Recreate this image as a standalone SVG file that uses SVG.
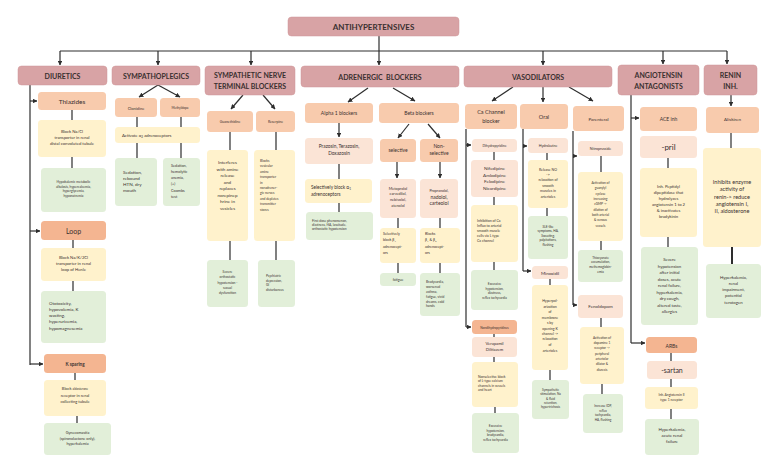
<svg xmlns="http://www.w3.org/2000/svg" width="768" height="466" viewBox="0 0 768 466">
<style>
rect{rx:3.5px;ry:3.5px}
.h{fill:#d8a3a5;stroke:#cf9699;stroke-width:0.5}
.p{fill:#f8cbad}
.o{fill:#f4b591}
.l{fill:#fbe4d6}
.y{fill:#fff2cc}
.g{fill:#e2efd9}
text{font-family:Lato,"Open Sans","DejaVu Sans",sans-serif;fill:#3a3030;text-anchor:middle}
.b{font-weight:bold}
.s{text-anchor:start}
.c line,.c path{stroke:#2e2e2e;stroke-width:1.2;fill:none}
</style>
<defs>
<marker id="a" viewBox="0 0 6 6" refX="5.5" refY="3" markerWidth="4" markerHeight="4" orient="auto"><path d="M0,0L6,3L0,6z" fill="#2e2e2e"/></marker>
</defs>
<rect width="768" height="466" fill="#fff" rx="0"/>
<g class="c" id="connectors">
<path d="M60,51H727"/>
<path d="M379,36V65" marker-end="url(#a)"/>
<path d="M60,51V65" marker-end="url(#a)"/>
<path d="M158,51V65" marker-end="url(#a)"/>
<path d="M251,51V65" marker-end="url(#a)"/>
<path d="M543,51V65" marker-end="url(#a)"/>
<path d="M663,51V64" marker-end="url(#a)"/>
<path d="M727,51V64" marker-end="url(#a)"/>
<path d="M30,85V365"/>
<path d="M30,101H37" marker-end="url(#a)"/>
<path d="M30,231H40" marker-end="url(#a)"/>
<path d="M30,364H43" marker-end="url(#a)"/>
<path d="M72,110V120M72,157V168M73,240V248M73,281V291M75,373V380M77,416V423"/>
<path d="M158,85L139,97" marker-end="url(#a)"/>
<path d="M158,85L180,97" marker-end="url(#a)"/>
<path d="M137,117V127M181,117V127M137,143V158M181,143V158"/>
<path d="M243,95L231,109" marker-end="url(#a)"/>
<path d="M263,95L275,109" marker-end="url(#a)"/>
<path d="M230,132V150M276,132V150M230,241V260M276,241V260"/>
<path d="M368,88L348,102" marker-end="url(#a)"/>
<path d="M393,88L415,101" marker-end="url(#a)"/>
<path d="M339,123V137" marker-end="url(#a)"/>
<path d="M339,164V179M339,203V212"/>
<path d="M409,124L398,138" marker-end="url(#a)"/>
<path d="M428,124L440,138" marker-end="url(#a)"/>
<path d="M397,162V178" marker-end="url(#a)"/>
<path d="M440,162V178" marker-end="url(#a)"/>
<path d="M398,218V228M440,218V228M398,263V273M440,263V273"/>
<path d="M513,87L492,101" marker-end="url(#a)"/>
<path d="M543,87V102" marker-end="url(#a)"/>
<path d="M569,87L593,101" marker-end="url(#a)"/>
<path d="M466,129V327"/>
<path d="M466,145H471" marker-end="url(#a)"/>
<path d="M466,327H471" marker-end="url(#a)"/>
<path d="M494,152V160M494,197V205M494,262V270M494,334V337M494,357V362M495,407V413"/>
<path d="M523,129V271"/>
<path d="M523,146H527" marker-end="url(#a)"/>
<path d="M523,271H531" marker-end="url(#a)"/>
<path d="M547,153V160M547,208V216M550,279V285M550,370V380"/>
<path d="M573,131V305"/>
<path d="M573,156H577" marker-end="url(#a)"/>
<path d="M573,305H577" marker-end="url(#a)"/>
<path d="M601,156V172M601,241V250M601,318V327M602,384V394"/>
<path d="M631,95V343"/>
<path d="M631,118H639" marker-end="url(#a)"/>
<path d="M631,343H645" marker-end="url(#a)"/>
<path d="M668,158V168M668,237V247M671,353V361M671,379V387M671,409V419"/>
<path d="M731,95V106" marker-end="url(#a)"/>
<path d="M731,133V148"/>
<path d="M732,247V264" style="stroke-width:2"/>
</g>

<g id="title"><rect class="h" x="288" y="17" width="171" height="19"/><text class="b" x="373.5" y="29.5" font-size="8">ANTIHYPERTENSIVES</text></g>

<g id="diuretics"><rect class="h" x="18" y="66" width="89" height="19"/><text class="b" x="62.5" y="78.5" font-size="7">DIURETICS</text></g>
<g id="sympathoplegics"><rect class="h" x="112" y="66" width="88" height="19"/><text class="b" x="156" y="78.5" font-size="7">SYMPATHOPLEGICS</text></g>
<g id="sntb"><rect class="h" x="205" y="66" width="90" height="29"/><text class="b" font-size="7"><tspan x="250" y="78">SYMPATHETIC NERVE</tspan><tspan x="250" y="89">TERMINAL BLOCKERS</tspan></text></g>
<g id="adrenergic"><rect class="h" x="301" y="66" width="158" height="21"/><text class="b" x="380" y="79.5" font-size="7" xml:space="preserve">ADRENERGIC  BLOCKERS</text></g>
<g id="vasodilators"><rect class="h" x="464" y="66" width="148" height="21"/><text class="b" x="538" y="79.5" font-size="7">VASODILATORS</text></g>
<g id="angiotensin"><rect class="h" x="618" y="65" width="81" height="30"/><text class="b" font-size="7"><tspan x="658.5" y="77.5">ANGIOTENSIN</tspan><tspan x="658.5" y="88.5">ANTAGONISTS</tspan></text></g>
<g id="renin"><rect class="h" x="704" y="65" width="53" height="30"/><text class="b" font-size="7"><tspan x="730.5" y="77.5">RENIN</tspan><tspan x="730.5" y="88.5">INH.</tspan></text></g>

<g id="thiazides"><rect class="p" x="38" y="92" width="68" height="18"/><text x="72" y="103.5" font-size="6.5">Thiazides</text></g>
<g id="thiazides-mech"><rect class="y" x="38" y="120" width="68" height="37"/><text font-size="4.2"><tspan x="72" y="133">Block Na/Cl</tspan><tspan x="72" y="139">transporter in renal</tspan><tspan x="72" y="145">distal convoluted tubule</tspan></text></g>
<g id="thiazides-ae"><rect class="g" x="41" y="168" width="65" height="44"/><text font-size="3.3"><tspan x="73.5" y="183">Hypokalemic metabolic</tspan><tspan x="73.5" y="187.5">alkalosis, hypercalcemia,</tspan><tspan x="73.5" y="192">hyperglycemia,</tspan><tspan x="73.5" y="196.5">hyponatremia</tspan></text></g>
<g id="loop"><rect class="o" x="41" y="221" width="65" height="19"/><text x="73.5" y="233.5" font-size="7">Loop</text></g>
<g id="loop-mech"><rect class="y" x="41" y="248" width="65" height="33"/><text font-size="4.2"><tspan x="73.5" y="259">Block Na/K/2Cl</tspan><tspan x="73.5" y="265">transporter in renal</tspan><tspan x="73.5" y="271">loop of Henle</tspan></text></g>
<g id="loop-ae"><rect class="g" x="41" y="291" width="65" height="52"/><text class="s" font-size="4.4"><tspan x="49" y="305">Ototoxicity,</tspan><tspan x="49" y="311">hypovolemia, K</tspan><tspan x="49" y="317">wasting,</tspan><tspan x="49" y="323">hyperuricemia,</tspan><tspan x="49" y="329.5">hypomagnesemia</tspan></text></g>
<g id="ksparing"><rect class="o" x="44" y="354" width="62" height="19"/><text class="b" x="75" y="365.5" font-size="4.6">K sparing</text></g>
<g id="ksparing-mech"><rect class="y" x="44" y="380" width="62" height="36"/><text font-size="4"><tspan x="75" y="390">Block <tspan font-size="3">aldosterone</tspan></tspan><tspan x="75" y="396.5">receptor in renal</tspan><tspan x="75" y="403">collecting tubule</tspan></text></g>
<g id="ksparing-ae"><rect class="g" x="44" y="423" width="67" height="32"/><text font-size="3.8"><tspan x="77.5" y="434">Gynecomastia</tspan><tspan x="77.5" y="439.5">(spironolactone only),</tspan><tspan x="77.5" y="445">hyperkalemia</tspan></text></g>

<g id="clonidine"><rect class="p" x="115" y="98" width="42" height="19"/><text x="136" y="109.5" font-size="4">Clonidine</text></g>
<g id="methyldopa"><rect class="p" x="160" y="98" width="40" height="19"/><text x="180" y="109" font-size="3.2">Methyldopa</text></g>
<g id="alpha2"><rect class="y" x="115" y="127" width="85" height="16"/><text class="s" x="122" y="136.5" font-size="4.3">Activate α<tspan font-size="3" dy="1">2</tspan><tspan dy="-1"> adrenoceptors</tspan></text></g>
<g id="clonidine-ae"><rect class="g" x="115" y="158" width="42" height="48"/><text class="s" font-size="4.6"><tspan x="123" y="174">Sedation,</tspan><tspan x="123" y="180">rebound</tspan><tspan x="123" y="186">HTN, dry</tspan><tspan x="123" y="192">mouth</tspan></text></g>
<g id="methyldopa-ae"><rect class="g" x="163" y="158" width="37" height="48"/><text class="s" font-size="3.8"><tspan x="171" y="167">Sedation,</tspan><tspan x="171" y="173">hemolytic</tspan><tspan x="171" y="179">anemia,</tspan><tspan x="171" y="185">(+)</tspan><tspan x="171" y="191.5">Coombs</tspan><tspan x="171" y="198">test</tspan></text></g>

<g id="guanethidine"><rect class="p" x="207" y="111" width="46" height="21"/><text x="230" y="123" font-size="3.5">Guanethidine</text></g>
<g id="reserpine"><rect class="p" x="256" y="111" width="39" height="21"/><text x="275.5" y="123" font-size="3.5">Reserpine</text></g>
<g id="guanethidine-mech"><rect class="y" x="207" y="150" width="41" height="91"/><text font-size="4.5"><tspan x="227.5" y="164">Interferes</tspan><tspan x="227.5" y="170.5">with amine</tspan><tspan x="227.5" y="177">release</tspan><tspan x="227.5" y="183.5">and</tspan><tspan x="227.5" y="190">replaces</tspan><tspan x="227.5" y="196.5">norepinep</tspan><tspan x="227.5" y="203">hrine in</tspan><tspan x="227.5" y="209.5">vesicles</tspan></text></g>
<g id="reserpine-mech"><rect class="y" x="254" y="150" width="41" height="91"/><text class="s" font-size="3.3"><tspan x="260" y="162">Blocks</tspan><tspan x="260" y="167.4">vesicular</tspan><tspan x="260" y="172.8">amine</tspan><tspan x="260" y="178.2">transporter</tspan><tspan x="260" y="183.6">in</tspan><tspan x="260" y="189">noradrener-</tspan><tspan x="260" y="194.4">gic nerves</tspan><tspan x="260" y="199.8">and depletes</tspan><tspan x="260" y="205.2">transmitter</tspan><tspan x="260" y="210.6">stores</tspan></text></g>
<g id="guanethidine-ae"><rect class="g" x="207" y="260" width="41" height="47"/><text font-size="3.3"><tspan x="227.5" y="273">Severe</tspan><tspan x="227.5" y="278.3">orthostatic</tspan><tspan x="227.5" y="283.6">hypotension -</tspan><tspan x="227.5" y="288.9">sexual</tspan><tspan x="227.5" y="294.2">dysfunction</tspan></text></g>
<g id="reserpine-ae"><rect class="g" x="258" y="260" width="37" height="47"/><text class="s" font-size="3.2"><tspan x="266" y="277">Psychiatric</tspan><tspan x="266" y="281.5">depression,</tspan><tspan x="266" y="286">GI</tspan><tspan x="266" y="290.5">disturbances</tspan></text></g>

<g id="alpha1"><rect class="p" x="305" y="103" width="68" height="20"/><text x="339" y="115" font-size="5">Alpha 1 blockers</text></g>
<g id="alpha1-drugs"><rect class="l" x="305" y="138" width="68" height="26"/><text font-size="4.8"><tspan x="339" y="148">Prazosin, Terazosin,</tspan><tspan x="339" y="155">Doxazosin</tspan></text></g>
<g id="alpha1-mech"><rect class="y" x="305" y="179" width="67" height="24"/><text class="s" font-size="4.7"><tspan x="311" y="188.5">Selectively  block  α<tspan font-size="3.2" dy="1">1</tspan></tspan><tspan x="311" y="196">adrenoceptors</tspan></text></g>
<g id="alpha1-ae"><rect class="g" x="306" y="212" width="67" height="28"/><text class="s" font-size="3.3"><tspan x="312" y="221.5">First   dose   phenomenon,</tspan><tspan x="312" y="225.5">dizziness,   HA,   lassitude,</tspan><tspan x="312" y="229.5">orthostatic hypotension</tspan></text></g>

<g id="beta"><rect class="p" x="379" y="103" width="80" height="20"/><text x="419" y="115" font-size="5">Beta blockers</text></g>
<g id="selective"><rect class="p" x="380" y="139" width="36" height="23"/><text x="398" y="152" font-size="5">selective</text></g>
<g id="nonselective"><rect class="p" x="420" y="139" width="38" height="23"/><text font-size="5"><tspan x="439" y="147.5">Non-</tspan><tspan x="439" y="154.5">selective</tspan></text></g>
<g id="selective-drugs"><rect class="l" x="380" y="179" width="36" height="39"/><text font-size="3.8"><tspan x="398" y="189.5">Metoprolol</tspan><tspan x="398" y="195">carvedilol,</tspan><tspan x="398" y="201">nebivolol,</tspan><tspan x="398" y="207">atenolol</tspan></text></g>
<g id="nonselective-drugs"><rect class="l" x="420" y="179" width="38" height="39"/><text><tspan x="439" y="192" font-size="3.6">Propranolol,</tspan><tspan x="439" y="198.5" font-size="5">nadolol,</tspan><tspan x="439" y="205" font-size="5">carteolol</tspan></text></g>
<g id="selective-mech"><rect class="y" x="380" y="228" width="36" height="35"/><text class="s" font-size="3.6"><tspan x="383" y="235">Selectively</tspan><tspan x="383" y="241">block     β<tspan font-size="2.6" dy="0.8">1</tspan></tspan><tspan x="383" y="247.5">adrenocept-</tspan><tspan x="383" y="253.5">ors</tspan></text></g>
<g id="nonselective-mech"><rect class="y" x="420" y="228" width="40" height="35"/><text class="s" font-size="3.6"><tspan x="425" y="235">Blocks</tspan><tspan x="425" y="241">β<tspan font-size="2.6" dy="0.8">1</tspan><tspan dy="-0.8"> &amp; β</tspan><tspan font-size="2.6" dy="0.8">2</tspan></tspan><tspan x="425" y="247.5">adrenocept-</tspan><tspan x="425" y="253.5">ors</tspan></text></g>
<g id="selective-ae"><rect class="g" x="380" y="273" width="36" height="13" rx="2"/><text x="398" y="281" font-size="3.5">fatigue</text></g>
<g id="nonselective-ae"><rect class="g" x="420" y="273" width="40" height="43"/><text class="s" font-size="3.3"><tspan x="426" y="283">Bradycardia,</tspan><tspan x="426" y="288">worsened</tspan><tspan x="426" y="293">asthma,</tspan><tspan x="426" y="298">fatigue,   vivid</tspan><tspan x="426" y="302.5">dreams,   cold</tspan><tspan x="426" y="307">hands</tspan></text></g>

<g id="ccb"><rect class="p" x="465" y="104" width="52" height="25"/><text font-size="5.5"><tspan x="491" y="114">Ca Channel</tspan><tspan x="491" y="123">blocker</tspan></text></g>
<g id="oral"><rect class="p" x="520" y="104" width="48" height="25"/><text x="544" y="118.5" font-size="5.5">Oral</text></g>
<g id="parenteral"><rect class="p" x="573" y="106" width="51" height="25"/><text x="598.5" y="120.5" font-size="4.5">Parenteral</text></g>
<g id="dhp"><rect class="l" x="472" y="139" width="45" height="13" rx="2"/><text x="494.5" y="147" font-size="3.4">Dihydropyridine</text></g>
<g id="dhp-drugs"><rect class="l" x="471" y="160" width="47" height="37"/><text font-size="4.6"><tspan x="494.5" y="170">Nifedipine</tspan><tspan x="494.5" y="176.5">Amlodipine</tspan><tspan x="494.5" y="183">Felodipine</tspan><tspan x="494.5" y="189.5">Nicardipine</tspan></text></g>
<g id="dhp-mech"><rect class="y" x="471" y="205" width="47" height="57"/><text class="s" font-size="3.5"><tspan x="477" y="222">Inhibition   of   Ca</tspan><tspan x="477" y="227">Influx   to   arterial</tspan><tspan x="477" y="232">smooth     muscle</tspan><tspan x="477" y="237">cells via L type</tspan><tspan x="477" y="242">Ca channel</tspan></text></g>
<g id="dhp-ae"><rect class="g" x="471" y="270" width="47" height="40"/><text font-size="3.2"><tspan x="494.5" y="285">Excessive</tspan><tspan x="494.5" y="289.5">hypotension,</tspan><tspan x="494.5" y="294">dizziness,</tspan><tspan x="494.5" y="298.5">reflex tachycardia</tspan></text></g>
<g id="ndhp"><rect class="o" x="472" y="320" width="45" height="14" rx="2"/><text x="494.5" y="328.5" font-size="3.1">Nondihydropyridines</text></g>
<g id="ndhp-drugs"><rect class="l" x="472" y="337" width="45" height="20" rx="2.5"/><text font-size="4.2"><tspan x="494.5" y="345">Verapamil</tspan><tspan x="494.5" y="351">Diltiazem</tspan></text></g>
<g id="ndhp-mech"><rect class="y" x="472" y="362" width="46" height="45"/><text class="s" font-size="3.3"><tspan x="478" y="378">Nonselective  block</tspan><tspan x="478" y="382.3">of  L-type  calcium</tspan><tspan x="478" y="386.6">channels  in  vessels</tspan><tspan x="478" y="391">and heart</tspan></text></g>
<g id="ndhp-ae"><rect class="g" x="472" y="413" width="47" height="40"/><text font-size="3.2"><tspan x="495.5" y="427">Excessive</tspan><tspan x="495.5" y="431.5">hypotension,</tspan><tspan x="495.5" y="436">bradycardia,</tspan><tspan x="495.5" y="440.5">reflex tachycardia</tspan></text></g>

<g id="hydralazine"><rect class="l" x="528" y="138" width="40" height="15" rx="2"/><text x="548" y="147" font-size="3.6">Hydralazine</text></g>
<g id="hydralazine-mech"><rect class="y" x="528" y="160" width="40" height="48"/><text font-size="3.5"><tspan x="548" y="170.5">Release NO</tspan><tspan x="548" y="175.5">-&gt;</tspan><tspan x="548" y="181">relaxation of</tspan><tspan x="548" y="186.5">smooth</tspan><tspan x="548" y="192">muscles in</tspan><tspan x="548" y="197.5">arterioles</tspan></text></g>
<g id="hydralazine-ae"><rect class="g" x="528" y="216" width="40" height="43"/><text font-size="3.2"><tspan x="548" y="227.5">SLE-like</tspan><tspan x="548" y="232">symptoms, HA,</tspan><tspan x="548" y="236.5">Sweating,</tspan><tspan x="548" y="241">palpitations,</tspan><tspan x="548" y="245.5">flushing</tspan></text></g>
<g id="minoxidil"><rect class="l" x="532" y="266" width="36" height="13" rx="2"/><text x="550" y="274.5" font-size="4.5">Minoxidil</text></g>
<g id="minoxidil-mech"><rect class="y" x="532" y="285" width="36" height="85"/><text font-size="3.5"><tspan x="550" y="302">Hyperpol-</tspan><tspan x="550" y="307.5">arization</tspan><tspan x="550" y="313">of</tspan><tspan x="550" y="318.5">membrane</tspan><tspan x="550" y="324">s by</tspan><tspan x="550" y="329.5">opening K</tspan><tspan x="550" y="335">channel -&gt;</tspan><tspan x="550" y="340">relaxation</tspan><tspan x="550" y="346">of</tspan><tspan x="550" y="351.5">arterioles</tspan></text></g>
<g id="minoxidil-ae"><rect class="g" x="532" y="380" width="37" height="39"/><text font-size="3.1"><tspan x="550.5" y="391">Sympathetic</tspan><tspan x="550.5" y="395.3">stimulation, Na</tspan><tspan x="550.5" y="399.6">&amp; fluid</tspan><tspan x="550.5" y="403.9">retention,</tspan><tspan x="550.5" y="408.2">hypertrichosis</tspan></text></g>

<g id="nitroprusside"><rect class="l" x="578" y="141" width="45" height="15" rx="2.5"/><text x="600.5" y="150" font-size="3.6">Nitroprusside</text></g>
<g id="nitroprusside-mech"><rect class="y" x="578" y="172" width="45" height="69"/><text font-size="3.2"><tspan x="600.5" y="184">Activation of</tspan><tspan x="600.5" y="189.3">guanylyl</tspan><tspan x="600.5" y="194.6">cyclase</tspan><tspan x="600.5" y="199.9">increasing</tspan><tspan x="600.5" y="205.2">cGMP -&gt;</tspan><tspan x="600.5" y="210.5">dilation of</tspan><tspan x="600.5" y="215.8">both arterial</tspan><tspan x="600.5" y="221.1">&amp; venous</tspan><tspan x="600.5" y="227">vessels</tspan></text></g>
<g id="nitroprusside-ae"><rect class="g" x="578" y="250" width="45" height="32"/><text font-size="3.1"><tspan x="600.5" y="258.5">Thiocyanate</tspan><tspan x="600.5" y="263.3">accumulation,</tspan><tspan x="600.5" y="268.1">methemoglobin-</tspan><tspan x="600.5" y="272.9">emia</tspan></text></g>
<g id="fenoldopam"><rect class="l" x="578" y="295" width="45" height="23"/><text x="600.5" y="308" font-size="4.5">Fenoldopam</text></g>
<g id="fenoldopam-mech"><rect class="y" x="580" y="327" width="44" height="57"/><text font-size="3.2"><tspan x="602" y="339">Activation of</tspan><tspan x="602" y="344.2">dopamine 1</tspan><tspan x="602" y="349.4">receptor -&gt;</tspan><tspan x="602" y="354.6">peripheral</tspan><tspan x="602" y="359.8">arteriolar</tspan><tspan x="602" y="365">dilator &amp;</tspan><tspan x="602" y="370.5">diuresis</tspan></text></g>
<g id="fenoldopam-ae"><rect class="g" x="583" y="394" width="40" height="39"/><text font-size="3.1"><tspan x="603" y="407">Increase IOP,</tspan><tspan x="603" y="411.7">reflex</tspan><tspan x="603" y="416.4">tachycardia,</tspan><tspan x="603" y="421.1">HA, flushing</tspan></text></g>

<g id="aceinh"><rect class="p" x="640" y="107" width="57" height="24"/><text x="668.5" y="121" font-size="5">ACE inh</text></g>
<g id="pril"><rect class="l" x="640" y="136" width="57" height="22"/><text x="668.5" y="150" font-size="8">-pril</text></g>
<g id="ace-mech"><rect class="y" x="640" y="168" width="57" height="69"/><text font-size="4.2"><tspan x="668.5" y="188">Inh. Peptidyl</tspan><tspan x="668.5" y="194">dipeptidase that</tspan><tspan x="668.5" y="200">hydrolyzes</tspan><tspan x="668.5" y="206">angiotensin 1 to 2</tspan><tspan x="668.5" y="212">&amp; inactivates</tspan><tspan x="668.5" y="218">bradykinin</tspan></text></g>
<g id="ace-ae"><rect class="g" x="641" y="247" width="57" height="78"/><text font-size="4.3"><tspan x="669.5" y="261">Severe</tspan><tspan x="669.5" y="267.5">hypotension</tspan><tspan x="669.5" y="274">after initial</tspan><tspan x="669.5" y="280.5">doses, acute</tspan><tspan x="669.5" y="287">renal failure,</tspan><tspan x="669.5" y="293.5">hyperkalemia,</tspan><tspan x="669.5" y="300">dry cough,</tspan><tspan x="669.5" y="306.5">altered taste,</tspan><tspan x="669.5" y="313">allergies</tspan></text></g>
<g id="arbs"><rect class="o" x="646" y="337" width="51" height="16"/><text x="671.5" y="347.5" font-size="5">ARBs</text></g>
<g id="sartan"><rect class="l" x="647" y="361" width="50" height="18"/><text x="672" y="373" font-size="7">-sartan</text></g>
<g id="arb-mech"><rect class="y" x="645" y="387" width="53" height="22"/><text font-size="3.3"><tspan x="671.5" y="396">Inh. Angiotensin II</tspan><tspan x="671.5" y="400.5">type 1 receptor</tspan></text></g>
<g id="arb-ae"><rect class="g" x="645" y="419" width="54" height="36"/><text font-size="4.3"><tspan x="672" y="431">Hyperkalemia,</tspan><tspan x="672" y="437">acute renal</tspan><tspan x="672" y="443">failure</tspan></text></g>

<g id="aliskiren"><rect class="p" x="706" y="107" width="53" height="26"/><text x="732.5" y="121" font-size="4.5">Aliskiren</text></g>
<g id="renin-mech"><rect class="y" x="703" y="148" width="58" height="99" rx="5"/><text font-size="5.6"><tspan x="732" y="184">Inhibits enzyme</tspan><tspan x="732" y="191.3">activity of</tspan><tspan x="732" y="198.6">renin-&gt; reduce</tspan><tspan x="732" y="205.9">angiotensin I,</tspan><tspan x="732" y="213.2">II, aldosterone</tspan></text></g>
<g id="renin-ae"><rect class="g" x="706" y="264" width="55" height="54" rx="5"/><text font-size="4.3"><tspan x="733.5" y="278.5">Hyperkalemia,</tspan><tspan x="733.5" y="284.8">renal</tspan><tspan x="733.5" y="291.1">impairment,</tspan><tspan x="733.5" y="297.4">potential</tspan><tspan x="733.5" y="303.7">teratogen</tspan></text></g>
</svg>
